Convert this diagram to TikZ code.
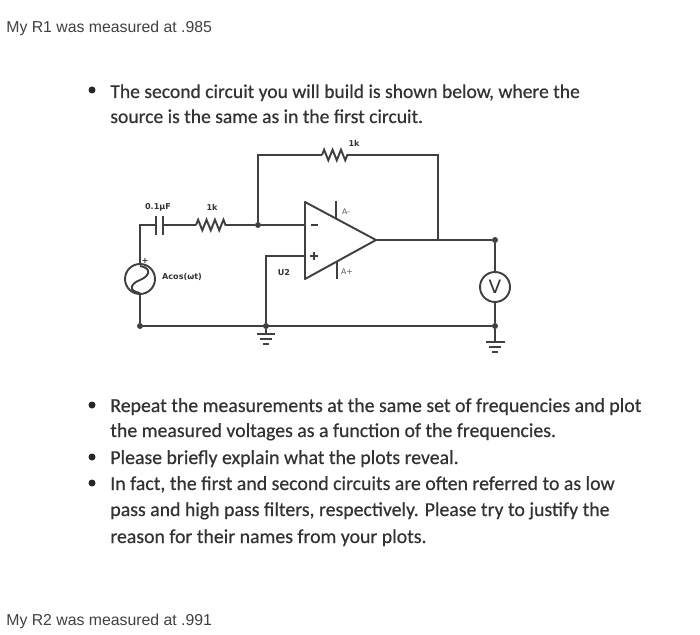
\documentclass[tikz,border=0pt]{standalone}
\usepackage{fontspec}
\setmainfont[RawFeature={embolden=0.5}]{Carlito}
\newfontfamily\notefont{Liberation Sans}
\newfontfamily\tagfont{DejaVu Sans}
\usetikzlibrary{decorations.pathmorphing}
\definecolor{wirecol}{gray}{0.25}
\definecolor{textcol}{gray}{0.2}
\tikzset{
	wire/.style={draw=wirecol, line width=1.1pt},
	res/.style={wire, decorate, decoration={zigzag, segment length=4.8pt, amplitude=3pt}},
	dot/.style={circle, fill=wirecol, inner sep=0pt, minimum size=3.4pt},
	meter/.style={circle, draw=wirecol, line width=1.1pt, fill=white, inner sep=0pt, minimum size=0.6cm},
	notetext/.style={anchor=base west, inner sep=0pt, text=black!75, font=\notefont\fontsize{9}{10}\selectfont},
	bodytext/.style={anchor=base west, inner sep=0pt, text=textcol, font=\fontsize{11.15}{12}\selectfont},
	lowtext/.style={bodytext, font=\fontsize{11.27}{12}\selectfont},
	bullet/.style={circle, fill=black!85, inner sep=0pt, minimum size=1.4mm},
	tag/.style={inner sep=0pt, text=textcol, font=\tagfont\bfseries\fontsize{4.6}{5}\selectfont},
	thintag/.style={inner sep=0pt, text=black!65, font=\tagfont\fontsize{4.4}{5}\selectfont},
}
\begin{document}
\begin{tikzpicture}[x=0.2mm, y=-0.2mm]
	\useasboundingbox (0, 0) rectangle (700, 635);
	% notes
	\node[notetext] (noteA) at (6, 33) {My R1 was measured at .985};
	\node[notetext] (noteB) at (6, 625) {My R2 was measured at .991};
	% first list
	\node[bullet] (bulA) at (92, 90) {};
	\node[bodytext] (lineA) at (110, 98) {The second circuit you will build is shown below, where the};
	\node[bodytext] (lineB) at (110, 123) {source is the same as in the first circuit.};
	% second list
	\node[bullet] (bulB) at (92, 405) {};
	\node[lowtext] (lineC) at (110, 412) {Repeat the measurements at the same set of frequencies and plot};
	\node[lowtext] (lineD) at (110, 437) {the measured voltages as a function of the frequencies.};
	\node[bullet] (bulC) at (92, 457) {};
	\node[lowtext] (lineE) at (110, 464) {Please briefly explain what the plots reveal.};
	\node[bullet] (bulD) at (92, 483) {};
	\node[lowtext] (lineF) at (110, 490) {In fact, the first and second circuits are often referred to as low};
	\node[lowtext] (lineG) at (110, 516) {pass and high pass filters, respectively. Please try to justify the};
	\node[lowtext] (lineH) at (110, 543) {reason for their names from your plots.};
	% junctions
	\coordinate (capL) at (156, 225);
	\coordinate (capR) at (163, 225);
	\coordinate (corner) at (140, 225);
	\coordinate (resL) at (196, 225);
	\coordinate (resR) at (226, 225);
	\node[dot] (jin) at (258, 225) {};
	\coordinate (fbL) at (258, 155);
	\coordinate (fbA) at (322, 155);
	\coordinate (fbB) at (351, 155);
	\coordinate (fbR) at (438, 155);
	\coordinate (jout) at (438, 240);
	\node[dot] (vtop) at (495, 240) {};
	\node[dot] (gndL) at (140, 326) {};
	\node[dot] (gndM) at (266, 326) {};
	\node[dot] (gndR) at (495, 326) {};
	\coordinate (plus) at (266, 256);
	% op amp
	\coordinate (oaT) at (305, 202);
	\coordinate (oaB) at (305, 279);
	\coordinate (oaO) at (376, 240);
	\coordinate (oaM) at (305, 225);
	\coordinate (oaP) at (305, 256);
	\draw[wire, line join=round] (oaT) -- (oaO) -- (oaB) -- cycle;
	\draw[wire] (336, 201) -- (336, 218);
	\draw[wire] (337, 262) -- (337, 279);
	\draw[wire] (311, 225) -- (318, 225);
	\draw[wire] (310, 256) -- (318, 256) (314, 252) -- (314, 260);
	% meters
	\node[meter] (src) at (140, 279) {};
	\node[meter, font=\tagfont\fontsize{10.5}{11}\selectfont, text=textcol] (vm) at (495, 287) {V};
	\draw[wire] (140, 266) .. controls (152, 268) and (150, 276) .. (140, 280) .. controls (130, 284) and (128, 291) .. (140, 293);
	% wires
	\draw[wire] (src) -- (corner) -- (capL);
	\draw[wire] (capR) -- (resL);
	\draw[wire] (156, 216) -- (156, 235);
	\draw[wire] (163, 216) -- (163, 235);
	\draw[res] (resL) -- (resR);
	\draw[wire] (resR) -- (jin);
	\draw[wire] (jin) -- (oaM);
	\draw[wire] (jin) -- (fbL) -- (fbA);
	\draw[res] (fbA) -- (fbB);
	\draw[wire] (fbB) -- (fbR) -- (jout);
	\draw[wire] (oaO) -- (vtop);
	\draw[wire] (vtop) -- (vm);
	\draw[wire] (vm) -- (gndR);
	\draw[wire] (src) -- (gndL);
	\draw[wire] (gndL) -- (gndR);
	\draw[wire] (gndM) -- (plus) -- (oaP);
	% grounds
	\draw[wire] (gndM) -- ++(0, 8);
	\draw[wire] (257, 334) -- (275, 334) (260, 339) -- (272, 339) (263, 344) -- (269, 344);
	\draw[wire] (gndR) -- ++(0, 16);
	\draw[wire] (486, 342) -- (505, 342) (489, 347) -- (501, 347) (492, 352) -- (498, 352);
	% labels
	\node[tag] (tagC) at (158, 207) {0.1μF};
	\node[tag] (tagR) at (212, 207) {1k};
	\node[tag] (tagF) at (354, 143) {1k};
	\node[tag] (tagS) at (182, 277) {Acos(ωt)};
	\node[tag] (tagU) at (284, 273) {U2};
	\node[tag] (tagP) at (145, 261) {+};
	\node[thintag] (tagAm) at (346, 212) {A-};
	\node[thintag] (tagAp) at (347, 272) {A+};
\end{tikzpicture}
\end{document}
